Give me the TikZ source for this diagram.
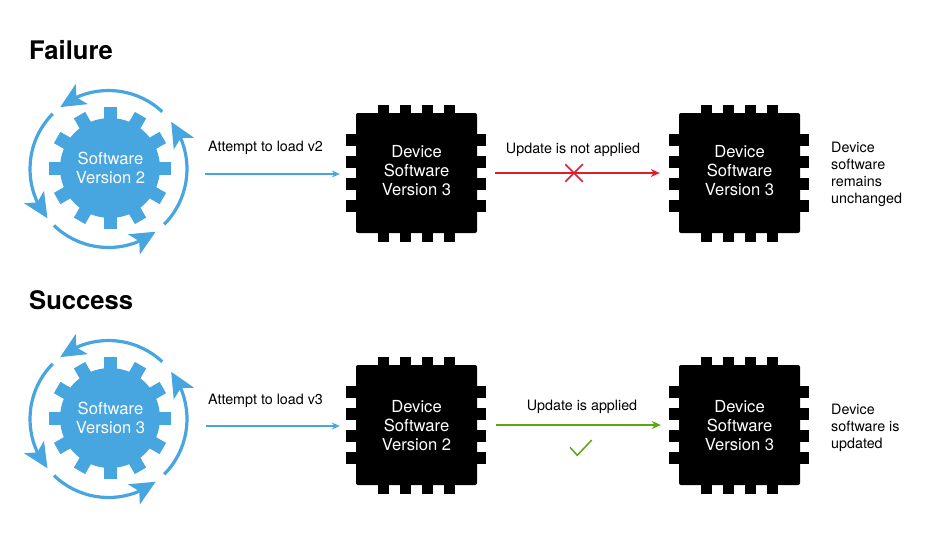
\documentclass[tikz,border=0pt]{standalone}
\usepackage{fontspec}
\setmainfont{TeX Gyre Heros}
\usetikzlibrary{arrows.meta,bending,shapes.misc}

\definecolor{gearblue}{HTML}{47A5E0}
\definecolor{failred}{HTML}{E01F2D}
\definecolor{okgreen}{HTML}{5DA613}

\tikzset{
  heading/.style={anchor=west,inner sep=0pt,font=\fontsize{25.6}{28}\bfseries\selectfont},
  caption/.style={inner sep=0pt,font=\fontsize{14.3}{17}\selectfont},
  sidenote/.style={caption,anchor=west,align=left},
  gearlabel/.style={inner sep=0pt,text=white,align=center,font=\fontsize{16.6}{19}\selectfont},
  chiplabel/.style={inner sep=0pt,text=white,align=center,font=\fontsize{16.6}{19}\selectfont},
  chipbody/.style={fill=black,rounded corners=2pt,minimum width=121pt,minimum height=120pt,inner sep=0pt},
  ringarrow/.style={draw=gearblue,line width=3.2pt,-{Stealth[length=25pt,width=23pt,inset=6pt,flex]}},
  loadarrow/.style={draw=gearblue,line width=1.5pt,-{Stealth[length=8pt,width=7pt]},shorten >=16pt},
  redarrow/.style={draw=failred,line width=1.5pt,-{Stealth[length=9pt,width=8pt]},shorten <=18pt,shorten >=19pt},
  greenarrow/.style={draw=okgreen,line width=1.5pt,-{Stealth[length=9pt,width=8pt]},shorten <=19pt,shorten >=18pt},
}

\begin{document}
\begin{tikzpicture}[x=1pt,y=-1pt]
\useasboundingbox (0,0) rectangle (936,541);

\node[heading](failure) at (29,50) {Failure};
\node[heading](success) at (29,300) {Success};

%GEARS
\foreach \name/\y/\ver in {gearA/168/2,gearB/418/3}{
  \fill[gearblue] (110,\y) circle (50);
  \foreach \a in {0,30,...,330}
    \fill[gearblue,shift={(110,\y)},rotate=\a] (45,-6.5) rectangle (61,6.5);
  \node[gearlabel](\name) at (110.5,\y) {Software\\Version \ver};
  \draw[ringarrow] (108.5,\y+1)+(-46.8:78.5) arc (-46.8:-128:78.5);
  \draw[ringarrow] (108.5,\y+1)+(44.8:78.5) arc (44.8:-37:78.5);
  \draw[ringarrow] (108.5,\y+1)+(134:78.5) arc (134:53:78.5);
  \draw[ringarrow] (108.5,\y+1)+(224.7:78.5) arc (224.7:141:78.5);
}

%CHIPS
\foreach \name/\x/\y/\ty/\ver in {chipA/416.5/173/170.5/3,chipB/739.5/173/170.5/3,chipC/416.5/425/425.5/2,chipD/739.5/425/425.5/3}{
  \foreach \o in {-33,-11,11,33}{
    \fill[black] (\x+\o-5.6,\y-68) rectangle (\x+\o+5.6,\y+69);
    \fill[black] (\x-70.5,\y+\o-5.6) rectangle (\x+69.5,\y+\o+5.6);
  }
  \node[chipbody](\name) at (\x,\y) {};
  \node[chiplabel](\name label) at (\x,\ty) {Device\\Software\\Version \ver};
}

\coordinate (loadA) at (205,174);
\coordinate (loadB) at (206,426);

\draw[loadarrow] (loadA) -- (chipA.west |- loadA);
\draw[loadarrow] (loadB) -- (chipC.west |- loadB);

\draw[redarrow] (chipA) -- (chipB);
\draw[greenarrow] (chipC) -- (chipD);

\node[cross out,draw=failred,line width=1.5pt,minimum size=16pt,inner sep=0pt](stop) at (574,173) {};
\draw[okgreen,line width=1.5pt] (570,447.3) -- (577.3,455.3) -- (591.7,440);

\node[caption,anchor=west](attemptA) at (208,148) {Attempt to load v2};
\node[caption,anchor=west](attemptB) at (208,401) {Attempt to load v3};
\node[caption](notapplied) at (573,150) {Update is not applied};
\node[caption](applied) at (582,407) {Update is applied};

\node[sidenote](noteA) at (831,174.5) {Device\\software\\remains\\unchanged};
\node[sidenote](noteB) at (831,428) {Device\\software is\\updated};

\end{tikzpicture}
\end{document}
